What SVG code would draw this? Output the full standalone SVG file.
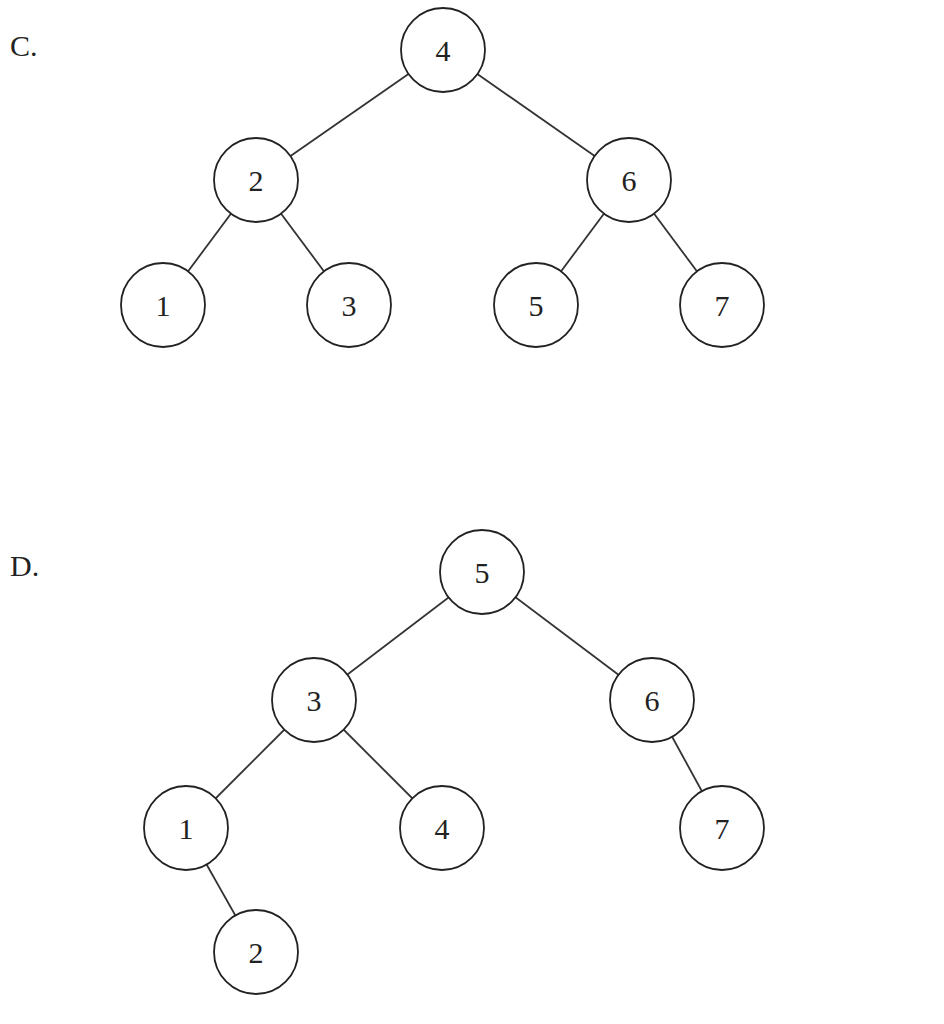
<svg xmlns="http://www.w3.org/2000/svg" width="944" height="1024" viewBox="0 0 944 1024">
<style>
.e{stroke:#333;stroke-width:1.8;fill:none}
circle{fill:#fff;stroke:#222;stroke-width:1.8}
text{font-family:"Liberation Serif","DejaVu Serif",serif;font-size:30px;fill:#222;text-anchor:middle}
.l{text-anchor:start}
</style>
<rect width="944" height="1024" fill="#fff"/>
<text class="l" x="10" y="56">C.</text>
<text class="l" x="10" y="576">D.</text>
<g id="connectors">
<line class="e" x1="443" y1="50" x2="256" y2="180"/>
<line class="e" x1="443" y1="50" x2="629" y2="180"/>
<line class="e" x1="256" y1="180" x2="163" y2="305"/>
<line class="e" x1="256" y1="180" x2="349" y2="305"/>
<line class="e" x1="629" y1="180" x2="536" y2="305"/>
<line class="e" x1="629" y1="180" x2="722" y2="305"/>
<line class="e" x1="482" y1="572" x2="314" y2="700"/>
<line class="e" x1="482" y1="572" x2="652" y2="700"/>
<line class="e" x1="314" y1="700" x2="186" y2="828"/>
<line class="e" x1="314" y1="700" x2="442" y2="828"/>
<line class="e" x1="652" y1="700" x2="722" y2="828"/>
<line class="e" x1="186" y1="828" x2="256" y2="952"/>
</g>
<g id="c4"><circle cx="443" cy="50" r="42"/><text x="443" y="61">4</text></g>
<g id="c2"><circle cx="256" cy="180" r="42"/><text x="256" y="191">2</text></g>
<g id="c6"><circle cx="629" cy="180" r="42"/><text x="629" y="191">6</text></g>
<g id="c1"><circle cx="163" cy="305" r="42"/><text x="163" y="316">1</text></g>
<g id="c3"><circle cx="349" cy="305" r="42"/><text x="349" y="316">3</text></g>
<g id="c5"><circle cx="536" cy="305" r="42"/><text x="536" y="316">5</text></g>
<g id="c7"><circle cx="722" cy="305" r="42"/><text x="722" y="316">7</text></g>
<g id="d5"><circle cx="482" cy="572" r="42"/><text x="482" y="583">5</text></g>
<g id="d3"><circle cx="314" cy="700" r="42"/><text x="314" y="711">3</text></g>
<g id="d6"><circle cx="652" cy="700" r="42"/><text x="652" y="711">6</text></g>
<g id="d1"><circle cx="186" cy="828" r="42"/><text x="186" y="839">1</text></g>
<g id="d4"><circle cx="442" cy="828" r="42"/><text x="442" y="839">4</text></g>
<g id="d7"><circle cx="722" cy="828" r="42"/><text x="722" y="839">7</text></g>
<g id="d2"><circle cx="256" cy="952" r="42"/><text x="256" y="963">2</text></g>
</svg>
